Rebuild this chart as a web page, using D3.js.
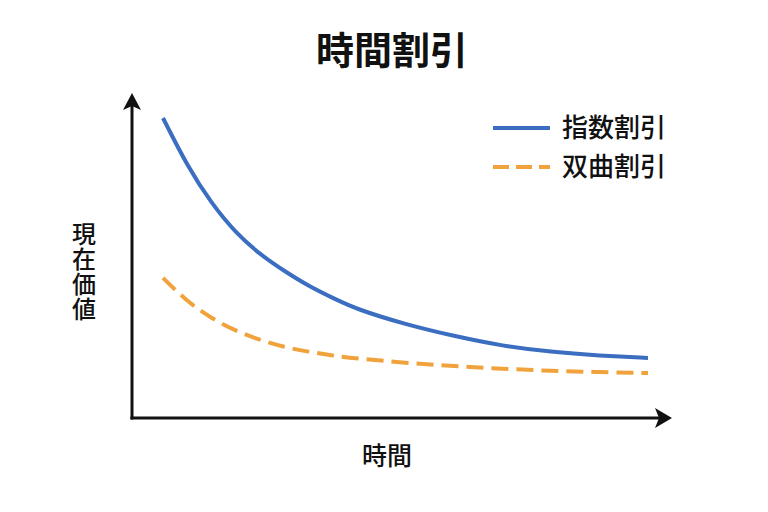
<!DOCTYPE html>
<html>
<head>
<meta charset="utf-8">
<script src="https://cdn.jsdelivr.net/npm/d3@7"></script>
<style>
  body { margin: 0; background: #fff; }
  svg { display: block; font-family: "Noto Sans CJK JP", "Noto Sans", sans-serif; }
</style>
</head>
<body>
<svg width="768" height="512"></svg>
<script>
// time points (arbitrary units) and present value for each discount model
var times = [0, 0.5, 1, 1.5, 2, 2.5, 3, 3.5, 4, 5, 6, 7, 8, 9, 10];
var exponential = [1.0, 0.84, 0.715, 0.617, 0.545, 0.49, 0.44, 0.40, 0.362, 0.312, 0.273, 0.24, 0.22, 0.208, 0.2];
var hyperbolic = [0.467, 0.388, 0.332, 0.29, 0.26, 0.236, 0.221, 0.208, 0.198, 0.184, 0.173, 0.164, 0.157, 0.153, 0.15];
var seriesNames = ["指数割引", "双曲割引"];
var seriesColors = ["#3b6dc1", "#f0a33c"];

var svg = d3.select("svg");

// plot frame
var axisLeft = 132, axisBottom = 418, axisTop = 93, axisRight = 672;

var x = d3.scaleLinear().domain([0, 10]).range([163, 648]),
    y = d3.scaleLinear().domain([0, 1]).range([axisBottom, 118]);

var line = d3.line()
    .x(function(d) { return x(d[0]); })
    .y(function(d) { return y(d[1]); })
    .curve(d3.curveBasis);

var series = [
  {name: seriesNames[0], color: seriesColors[0], dash: null, values: d3.zip(times, exponential)},
  {name: seriesNames[1], color: seriesColors[1], dash: "17,8", values: d3.zip(times, hyperbolic)}
];

series.forEach(function(s) {
  svg.append("path")
      .datum(s.values)
      .attr("fill", "none")
      .attr("stroke", s.color)
      .attr("stroke-width", 4)
      .attr("stroke-dasharray", s.dash)
      .attr("d", line);
});

// axes with arrow heads
svg.append("line")
    .attr("x1", axisLeft).attr("y1", axisBottom + 1.5)
    .attr("x2", axisLeft).attr("y2", axisTop + 10)
    .attr("stroke", "#111").attr("stroke-width", 3);
svg.append("line")
    .attr("x1", axisLeft - 1.5).attr("y1", axisBottom)
    .attr("x2", axisRight - 10).attr("y2", axisBottom)
    .attr("stroke", "#111").attr("stroke-width", 3);

svg.append("path")
    .attr("fill", "#111")
    .attr("d", "M" + axisLeft + "," + axisTop + " L" + (axisLeft + 9) + "," + (axisTop + 17) +
               " L" + axisLeft + "," + (axisTop + 13) + " L" + (axisLeft - 9) + "," + (axisTop + 17) + "Z");
svg.append("path")
    .attr("fill", "#111")
    .attr("d", "M" + axisRight + "," + axisBottom + " L" + (axisRight - 17) + "," + (axisBottom - 10) +
               " L" + (axisRight - 13) + "," + axisBottom + " L" + (axisRight - 17) + "," + (axisBottom + 10) + "Z");

// title
svg.append("text")
    .attr("x", 392)
    .attr("y", 50)
    .attr("dy", "0.36em")
    .attr("text-anchor", "middle")
    .style("font-size", "38px")
    .style("font-weight", "bold")
    .style("fill", "#111")
    .text("時間割引");

// axis labels
svg.append("text")
    .attr("x", 387)
    .attr("y", 456)
    .attr("dy", "0.36em")
    .attr("text-anchor", "middle")
    .style("font-size", "25px")
    .style("font-weight", 500)
    .style("fill", "#111")
    .text("時間");

svg.append("text")
    .attr("x", 84)
    .attr("y", 272)
    .attr("text-anchor", "middle")
    .style("writing-mode", "vertical-rl")
    .style("text-orientation", "upright")
    .style("letter-spacing", "1px")
    .style("font-size", "24px")
    .style("font-weight", 500)
    .style("fill", "#111")
    .text("現在価値");

// legend
var legend = svg.selectAll(".legend")
    .data(series)
    .enter().append("g")
      .attr("class", "legend")
      .attr("transform", function(d, i) { return "translate(493," + (128 + i * 39) + ")"; });

legend.append("line")
    .attr("x1", 0).attr("x2", 57)
    .attr("stroke", function(d) { return d.color; })
    .attr("stroke-width", 4)
    .attr("stroke-dasharray", function(d) { return d.dash ? "16,7" : null; });

legend.append("text")
    .attr("x", 69)
    .attr("dy", "0.36em")
    .style("font-size", "26px")
    .style("font-weight", 500)
    .style("fill", "#111")
    .text(function(d) { return d.name; });
</script>
</body>
</html>
